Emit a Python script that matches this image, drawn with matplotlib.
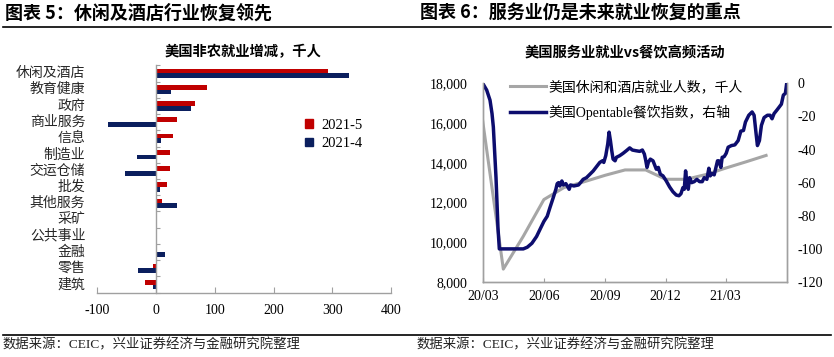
import matplotlib
matplotlib.use('Agg')
import matplotlib.pyplot as plt
import matplotlib.transforms as mtrans
from matplotlib.patches import Patch
from matplotlib.lines import Line2D
import numpy as np
import pandas as pd

# ---------------- data ----------------
categories = ['休闲及酒店', '教育健康', '政府', '商业服务', '信息', '制造业', '交运仓储',
              '批发', '其他服务', '采矿', '公共事业', '金融', '零售', '建筑']
may_2021 = [292, 87, 67, 35, 29, 23, 23, 19, 10, 1, 0, 0, -5, -19]
apr_2021 = [328, 25, 60, -81, 9, -32, -52, 6, 35, 0, 0, 16, -30, -5]
series_labels = ['2021-5', '2021-4']
bar_xticks = [-100, 0, 100, 200, 300, 400]

leisure_months = ['2020-03-01', '2020-04-01', '2020-05-01', '2020-06-01', '2020-07-01',
                  '2020-08-01', '2020-09-01', '2020-10-01', '2020-11-01', '2020-12-01',
                  '2021-01-01', '2021-02-01', '2021-03-01', '2021-04-01', '2021-05-01']
leisure_emp = [16100, 8650, 10300, 12150, 12750, 13050, 13370, 13640, 13640, 13170,
               13170, 13420, 13730, 14050, 14370]

opentable_day = [0, 6, 11, 14, 16, 20, 23, 25, 61, 67, 74, 81, 87, 92, 97, 101, 106, 110,
                 112, 114, 116, 119, 121, 125, 130, 132, 137, 144, 147, 151, 156, 161, 166,
                 171, 176, 180, 182, 185, 188, 190, 192, 194, 196, 199, 201, 206, 211, 216,
                 221, 225, 230, 236, 240, 243, 245, 247, 249, 252, 256, 261, 264, 267, 271,
                 276, 281, 286, 291, 295, 298, 301, 303, 305, 307, 309, 311, 314, 318, 322,
                 326, 330, 333, 337, 340, 342, 345, 348, 350, 353, 355, 358, 360, 363, 366,
                 369, 374, 379, 384, 388, 392, 395, 400, 405, 408, 411, 413, 416, 419, 423,
                 428, 432, 435, 438, 442, 446, 449, 452, 455, 457]
opentable_idx = [0, -4.1, -10.2, -18.3, -26.4, -56.9, -87.5, -100, -100, -99, -96.6, -92.5,
                 -87.5, -83.4, -80.3, -75.2, -69.1, -64, -60.6, -60, -62, -59, -61.4, -60.6,
                 -64, -61.4, -62, -61.4, -60, -58, -57, -55, -53, -50.4, -47.8, -46.8, -47.8,
                 -43.7, -36.6, -29.5, -34.6, -40.7, -45.8, -46.8, -44.7, -43.7, -42.3, -40.7,
                 -39, -40.3, -40.7, -41.1, -40.3, -42.7, -46.4, -50.8, -47.8, -45.8, -46.8,
                 -51.9, -50.8, -54.9, -55.9, -59, -62.6, -65.5, -67.5, -67.9, -66.7, -63, -64,
                 -52.9, -60, -64, -57, -60, -59.4, -58, -59.4, -59.4, -57, -58, -51.3, -55.9,
                 -54.5, -55.3, -51.9, -46.8, -46.8, -50.8, -44.7, -44.3, -42.3, -38.6, -37.6,
                 -37.2, -34.6, -28.9, -28.5, -23.4, -19.3, -17.3, -19.3, -30.5, -37.6, -34.6,
                 -25.4, -20.7, -19.3, -19.3, -21.4, -18.3, -16.3, -14.2, -12.6, -7.1, -6.1, 0]
opentable_start = '2020-03-01'
line_labels = ['美国休闲和酒店就业人数，千人', '美国Opentable餐饮指数，右轴']
date_ticks = ['2020-03-01', '2020-06-01', '2020-09-01', '2020-12-01', '2021-03-01']
date_ticklabels = ['20/03', '20/06', '20/09', '20/12', '21/03']

# ---------------- style ----------------
W, H = 834, 357
CJK = ['Liberation Serif', 'Noto Sans CJK SC']
CJKB = ['Noto Sans CJK SC', 'Liberation Serif']
RED = '#C00000'
NAVY = '#0B1F5E'
LINE_NAVY = '#0D0D6E'
GRAY = '#A6A6A6'
SPINE = '#A0A0A0'

plt.rcParams['font.family'] = CJK
fig = plt.figure(figsize=(W / 100, H / 100), dpi=100)

def fx(px):
    return px / W

def fy(py):
    return 1 - py / H

# header / footer
fig.text(fx(5), fy(13), '图表 5：休闲及酒店行业恢复领先', fontsize=13, fontweight='bold',
         family=CJKB, ha='left', va='center')
fig.text(fx(420), fy(13), '图表 6：服务业仍是未来就业恢复的重点', fontsize=13, fontweight='bold',
         family=CJKB, ha='left', va='center')
fig.add_artist(Line2D([fx(3), fx(831)], [fy(26.5), fy(26.5)], color='black', lw=1.2))
fig.add_artist(Line2D([fx(3), fx(831)], [fy(335), fy(335)], color='black', lw=1.2))
fig.text(fx(3), fy(345), '数据来源：CEIC，兴业证券经济与金融研究院整理', fontsize=9.6,
         ha='left', va='center', color='#222222')
fig.text(fx(417), fy(345), '数据来源：CEIC，兴业证券经济与金融研究院整理', fontsize=9.6,
         ha='left', va='center', color='#222222')

# chart titles
fig.text(fx(243), fy(52), '美国非农就业增减，千人', fontsize=10.3, fontweight='bold',
         family=CJKB, ha='center', va='center')
fig.text(fx(625), fy(52), '美国服务业就业vs餐饮高频活动', fontsize=10.3, fontweight='bold',
         family=CJKB, ha='center', va='center')

# ---------------- left: bar chart ----------------
ax1 = fig.add_axes([fx(97.3), fy(292.7), fx(391) - fx(97.3), fy(65.3) - fy(292.7)])
ypos = np.arange(len(categories))
bh = 0.29
ax1.barh(ypos - bh / 2, may_2021, height=bh, color=RED, label=series_labels[0])
ax1.barh(ypos + bh / 2, apr_2021, height=bh, color=NAVY, label=series_labels[1])
ax1.set_ylim(len(categories) - 0.5, -0.5)
ax1.set_xlim(bar_xticks[0], bar_xticks[-1])
ax1.set_xticks(bar_xticks)
ax1.set_xticklabels([str(v) for v in bar_xticks], fontsize=10, family='Liberation Serif')
ax1.tick_params(axis='x', direction='in', length=4, color=SPINE, pad=8)
ax1.set_yticks(np.arange(len(categories) + 1) - 0.5)
ax1.set_yticklabels([])
ax1.tick_params(axis='y', direction='in', length=3, color=SPINE)
ax1.spines['left'].set_position(('data', 0))
for s in ['top', 'right']:
    ax1.spines[s].set_visible(False)
for s in ['left', 'bottom']:
    ax1.spines[s].set_color(SPINE)
    ax1.spines[s].set_linewidth(1)
trans = mtrans.blended_transform_factory(ax1.transAxes, ax1.transData)
for i, c in enumerate(categories):
    ax1.text(-12 / (391 - 97.3), i, c, transform=trans, ha='right', va='center',
             fontsize=10, color='#262626')
leg1 = ax1.legend(handles=[Patch(color=RED, label=series_labels[0]),
                           Patch(color=NAVY, label=series_labels[1])],
                  loc='center left', bbox_to_anchor=(fx(305), fy(134.5)),
                  bbox_transform=fig.transFigure, frameon=False,
                  handlelength=0.55, handleheight=0.55, handletextpad=0.55,
                  labelspacing=0.35, borderpad=0, borderaxespad=0,
                  prop={'family': 'Liberation Serif', 'size': 10.5})

# ---------------- right: line chart ----------------
ax2 = fig.add_axes([fx(482.7), fy(282), fx(786.7) - fx(482.7), fy(83.3) - fy(282)])
ax3 = ax2.twinx()
lm = pd.to_datetime(leisure_months)
od = pd.Timestamp(opentable_start) + pd.to_timedelta(opentable_day, unit='D')
l1, = ax2.plot(lm, leisure_emp, color=GRAY, lw=2.2, label=line_labels[0], solid_joinstyle='round')
l2, = ax3.plot(od, opentable_idx, color=LINE_NAVY, lw=2.5, label=line_labels[1], solid_joinstyle='round')
ax2.set_xlim(pd.Timestamp('2020-03-01'), pd.Timestamp('2021-06-01'))
ax2.set_ylim(8000, 18000)
ax3.set_ylim(-120, 0)
ax2.set_yticks(np.arange(8000, 18001, 2000))
ax2.set_yticklabels([f'{v:,}' for v in range(8000, 18001, 2000)], fontsize=10,
                    family='Liberation Serif')
ax3.set_yticks(np.arange(-120, 1, 20))
ax3.set_yticklabels([str(v) for v in range(-120, 1, 20)], fontsize=10, family='Liberation Serif')
ax2.set_xticks(pd.to_datetime(date_ticks))
ax2.set_xticklabels(date_ticklabels, fontsize=10, family='Liberation Serif')
ax2.tick_params(axis='x', direction='in', length=3, color=SPINE, pad=6)
ax2.tick_params(axis='y', length=0, pad=11)
ax3.tick_params(axis='y', length=0, pad=8)
for a in (ax2, ax3):
    a.spines['top'].set_visible(False)
    for s in ['left', 'right', 'bottom']:
        a.spines[s].set_color(SPINE)
        a.spines[s].set_linewidth(1)
leg2 = ax3.legend(handles=[l1, l2], loc='center left', bbox_to_anchor=(fx(510), fy(100)),
                  bbox_transform=fig.transFigure, frameon=False,
                  handlelength=2.6, handletextpad=0.15, labelspacing=0.75,
                  borderpad=0, borderaxespad=0,
                  prop={'family': CJK, 'size': 10})

fig.savefig('out.png', dpi=100)
